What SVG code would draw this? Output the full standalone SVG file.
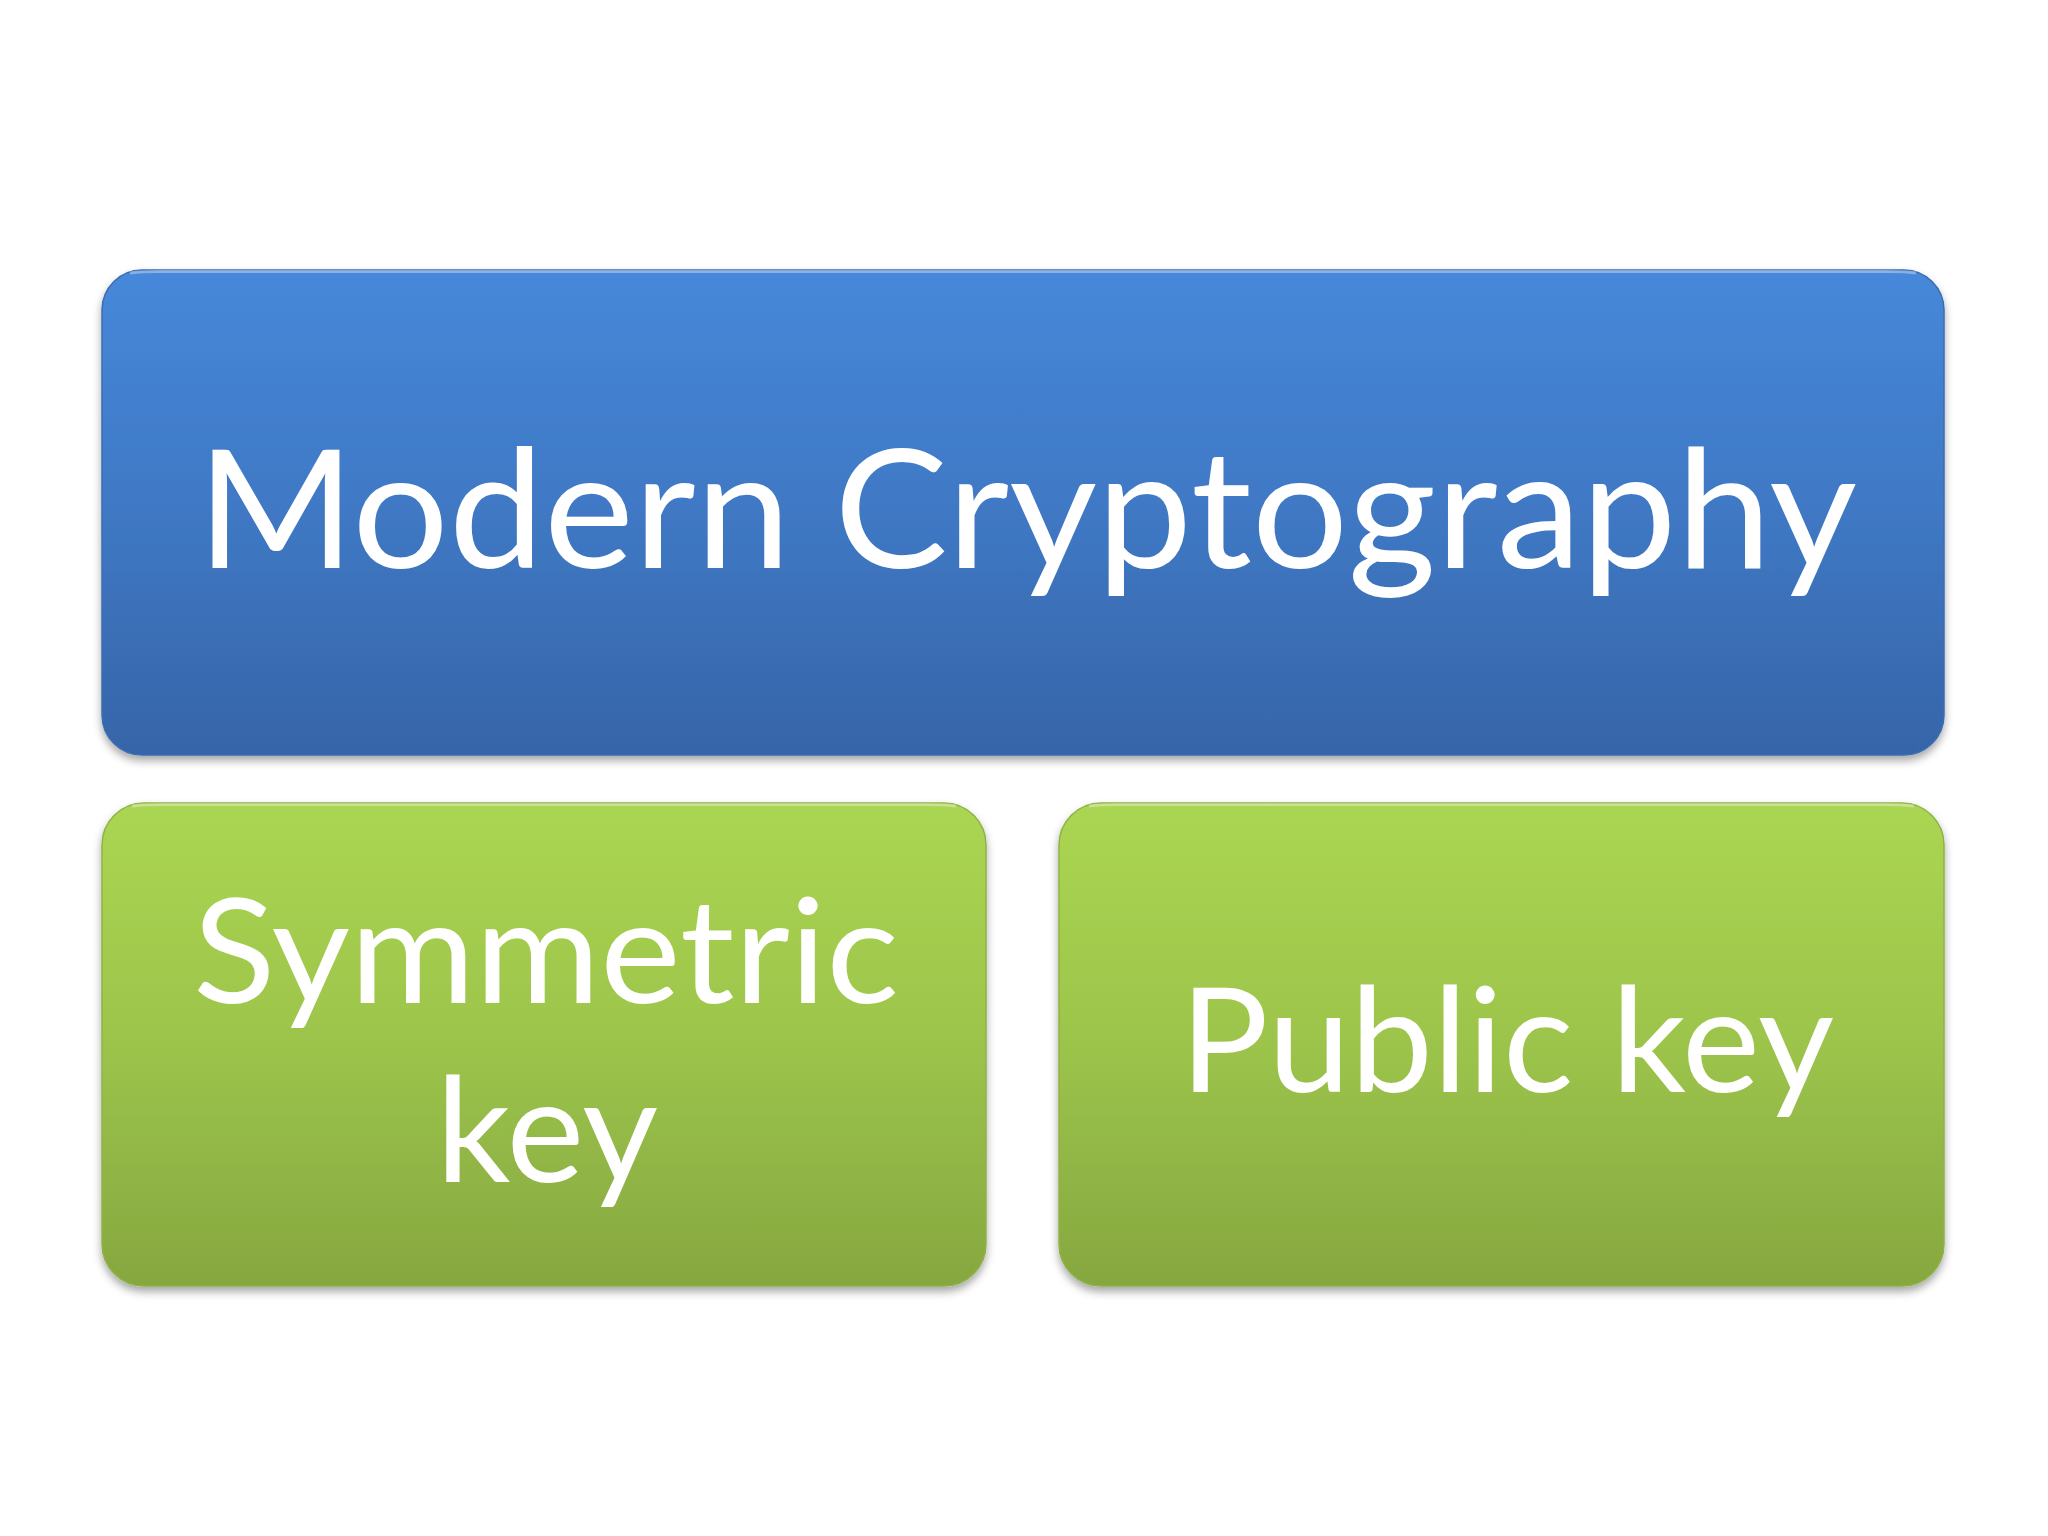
<svg xmlns="http://www.w3.org/2000/svg" width="2048" height="1536" viewBox="0 0 2048 1536">
  <defs>
    <linearGradient id="gBlue" x1="0" y1="0" x2="0" y2="1">
      <stop offset="0" stop-color="#4688da"/>
      <stop offset="0.5" stop-color="#3f78c4"/>
      <stop offset="1" stop-color="#3665a8"/>
    </linearGradient>
    <linearGradient id="gGreen" x1="0" y1="0" x2="0" y2="1">
      <stop offset="0" stop-color="#abd652"/>
      <stop offset="0.5" stop-color="#9cc44b"/>
      <stop offset="1" stop-color="#86a740"/>
    </linearGradient>
    <filter id="shadow" x="-5%" y="-5%" width="110%" height="115%">
      <feDropShadow dx="0" dy="5" stdDeviation="4" flood-color="#000" flood-opacity="0.35"/>
    </filter>
  </defs>
  <style>
    .box { filter: url(#shadow); }
    .blue { fill: url(#gBlue); stroke: #3a6db2; stroke-width: 1.5; }
    .green { fill: url(#gGreen); stroke: #8fb246; stroke-width: 1.5; }
    .hl { fill: none; stroke: #ffffff; stroke-opacity: 0.35; stroke-width: 3; }
    .lbl { font-family: Lato, "Open Sans", "Liberation Sans", sans-serif; fill: #ffffff; text-anchor: middle; }
  </style>
  <rect width="2048" height="1536" fill="#ffffff"/>
  <g id="connectors"/>
  <g id="modern-cryptography">
    <rect class="box blue" x="102" y="270" width="1842" height="485" rx="40" ry="40"/>
    <path class="hl" d="M 130 273 Q 142 271.5 160 271.5 L 1886 271.5 Q 1904 271.5 1916 273"/>
    <text class="lbl" x="1027" y="568" font-size="164" textLength="1660" lengthAdjust="spacingAndGlyphs">Modern Cryptography</text>
  </g>
  <g id="symmetric-key">
    <rect class="box green" x="102" y="803" width="884" height="483" rx="42" ry="42"/>
    <path class="hl" d="M 132 806 Q 144 804.5 162 804.5 L 926 804.5 Q 944 804.5 956 806"/>
    <text class="lbl" x="546" y="1003" font-size="145" textLength="706" lengthAdjust="spacingAndGlyphs">Symmetric</text>
    <text class="lbl" x="547" y="1182" font-size="145" textLength="222" lengthAdjust="spacingAndGlyphs">key</text>
  </g>
  <g id="public-key">
    <rect class="box green" x="1059" y="803" width="885" height="483" rx="42" ry="42"/>
    <path class="hl" d="M 1089 806 Q 1101 804.5 1119 804.5 L 1884 804.5 Q 1902 804.5 1914 806"/>
    <text class="lbl" x="1507" y="1092" font-size="145" textLength="654" lengthAdjust="spacingAndGlyphs">Public key</text>
  </g>
</svg>
